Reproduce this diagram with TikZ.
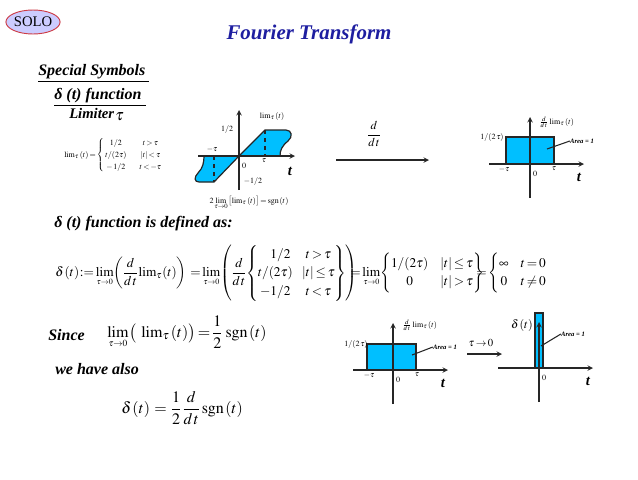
\documentclass[tikz,border=0pt]{standalone}
\usepackage{amsmath}
\usepackage{mathptmx}
\usepackage[no-math]{fontspec}
\setmainfont{Liberation Serif}
\usetikzlibrary{shapes.geometric}
\definecolor{areablue}{RGB}{0,191,255}
\definecolor{titleblue}{RGB}{30,30,160}
\definecolor{solofill}{RGB}{204,204,255}
\definecolor{solored}{RGB}{205,60,70}
\renewcommand{\arraystretch}{1.15}
\thinmuskip=1.5mu
\medmuskip=1.5mu
\thickmuskip=2.5mu
\setlength{\arraycolsep}{1pt}
\setlength{\nulldelimiterspace}{0.5pt}
\newcommand{\limz}{\lim_{\scriptscriptstyle\tau\to0}}
\begin{document}
\begin{tikzpicture}[x=0.75pt,y=-0.75pt,>=stealth,
    head/.style = {font=\fontsize{12}{14}\bfseries\itshape\selectfont,anchor=west,inner sep=0pt},
    eqn/.style = {font=\fontsize{12}{14}\selectfont,anchor=west,inner sep=0pt},
    defeqn/.style = {font=\fontsize{10}{12}\selectfont,anchor=west,inner sep=0pt},
    lab/.style = {font=\fontsize{6}{7}\selectfont,inner sep=0pt},
    axisvar/.style = {font=\fontsize{11}{12}\bfseries\itshape\selectfont,inner sep=0pt},
    note/.style = {font=\fontsize{5}{6}\bfseries\itshape\selectfont,inner sep=0pt},
    axis/.style = {draw=black!85,line width=0.8pt,->},
    blockfill/.style = {draw=black!85,fill=areablue,line width=0.9pt},
    pointer/.style = {draw=black!85,line width=0.8pt}]
\useasboundingbox (0,0) rectangle (638,479);

% header
\node[ellipse,draw=solored,fill=solofill,line width=0.7pt,minimum width=39pt,minimum height=18pt,inner sep=0pt,
  font=\fontsize{11}{12}\selectfont] (solo) at (33,22) {SOLO};
\node[font=\fontsize{15.7}{18}\bfseries\itshape\selectfont,text=titleblue,inner sep=0pt] (title) at (309,34) {Fourier Transform};
\node[head] (special) at (38,73) {\underline{Special Symbols\ }};
\node[head] (fn) at (54,97) {\underline{δ (t) function\ }};
\node[head,font=\fontsize{11}{13}\bfseries\itshape\selectfont] (limiter) at (69,113) {Limiter};
\node[eqn] (limtau) at (115,117) {$\tau$};

% limiter definition
\node[lab,anchor=west] (limdef) at (64,155) {\renewcommand{\arraystretch}{1.3}$\mathrm{lim}_{\tau}\,(t)=\left\{\begin{array}{c@{\hspace{10pt}}c}
  1/2 & t>\tau\\ t/(2\tau) & |t|<\tau\\ -\,1/2 & t<-\tau\end{array}\right.$};

% limiter graph
\coordinate (a1w) at (198,156);
\coordinate (a1e) at (295,156);
\coordinate (a1s) at (239,190);
\coordinate (a1n) at (239,110);
\draw[blockfill] (239,156) -- (265,130) -- (286,130) .. controls (292,130) and (293,137) .. (288,141)
  .. controls (282,146) and (280,150) .. (280,156) -- cycle;
\draw[blockfill] (239,156) -- (214,182) -- (199,182) .. controls (194,182) and (194,177) .. (198,173)
  .. controls (203,168) and (204,162) .. (204,156) -- cycle;
\draw[pointer,dashed] (265,130) -- (265,156);
\draw[pointer,dashed] (214,156) -- (214,182);
\draw[axis] (a1w) -- (a1e);
\draw[axis] (a1s) -- (a1n);
\node[lab] (a1lim) at (272,116) {$\mathrm{lim}_{\tau}\,(t)$};
\node[lab] (a1half) at (227,130) {$1/2$};
\node[lab] (a1mt) at (212,149) {$-\tau$};
\node[lab] (a1t) at (264,161) {$\tau$};
\node[lab] (a1zero) at (244,166) {$0$};
\node[axisvar] (a1var) at (290,171) {t};
\node[lab] (a1mhalf) at (253,182) {$-1/2$};
\node[lab] (a1sgn) at (249,203) {$2\lim\limits_{\tau\to0}\big[\mathrm{lim}_{\tau}\,(t)\big]=\mathrm{sgn}\,(t)$};

% derivative arrow
\node[font=\fontsize{9}{10}\selectfont,inner sep=0pt] (ddt) at (374,134) {$\dfrac{d}{d\,t}$};
\coordinate (ddtw) at (336,160);
\coordinate (ddte) at (429,160);
\draw[axis] (ddtw) -- (ddte);

% rectangle graph
\coordinate (a2w) at (489,164);
\coordinate (a2e) at (584,164);
\coordinate (a2s) at (530,198);
\coordinate (a2n) at (530,117);
\coordinate (a2arrow) at (547,149);
\draw[blockfill] (506,137) rectangle (554,164);
\draw[axis] (a2w) -- (a2e);
\draw[axis] (a2s) -- (a2n);
\node[lab] (a2lim) at (557,122) {$\frac{d}{d\,t}\ \mathrm{lim}_{\tau}\,(t)$};
\node[lab] (a2top) at (492,137) {$1/(2\,\tau)$};
\node[lab] (a2mt) at (504,169) {$-\tau$};
\node[lab] (a2t) at (554,169) {$\tau$};
\node[lab] (a2zero) at (535,174) {$0$};
\node[axisvar] (a2var) at (579,177) {t};
\node[note] (a2area) at (582,141) {Area = 1};
\draw[pointer] (a2arrow) -- (a2area.west);

% definition
\node[head] (defhead) at (54,224) {δ (t) function is defined as:};
\node[defeqn] (defa) at (55,273) {$\displaystyle\delta\,(t)\!:=\limz\!\left(\frac{d}{d\,t}\,\mathrm{lim}_{\tau}(t)\right)$};
\node[defeqn] (defb) at (190,273) {$\displaystyle=\limz\!\left(\frac{d}{d\,t}\!\left\{\begin{array}{@{}c@{\hspace{7pt}}c@{}}
  \phantom{-}1/2 & t>\tau\\ t/(2\tau) & |t|\le\tau\\ -1/2 & t<\tau\end{array}\right\}\!\right)$};
\node[defeqn] (defc) at (350,273) {$\displaystyle=\limz\!\left\{\begin{array}{@{}c@{\hspace{9pt}}c@{}}
  1/(2\tau) & |t|\le\tau\\ 0 & |t|>\tau\end{array}\right\}$};
\node[defeqn] (defd) at (476,273) {$\displaystyle=\left\{\begin{array}{@{}c@{\hspace{9pt}}c@{}}
  \infty & t=0\\ 0 & t\ne0\end{array}\right.$};

% since
\node[head] (since) at (48,335) {Since};
\node[eqn] (sinceeq) at (107,332) {$\displaystyle\limz\big(\ \mathrm{lim}_{\tau}\,(t)\big)=\frac{1}{2}\;\,\mathrm{sgn}\,(t)$};
\node[head] (also) at (55,369) {we have also};
\node[eqn] (alsoeq) at (121,408) {$\displaystyle\delta\,(t)\;=\;\frac{1}{2}\;\frac{d}{d\,t}\;\mathrm{sgn}\,(t)$};

% rectangle graph, lower row
\coordinate (a3w) at (353,370);
\coordinate (a3e) at (448,370);
\coordinate (a3s) at (393,404);
\coordinate (a3n) at (393,323);
\coordinate (a3arrow) at (412,355);
\draw[blockfill] (367,344) rectangle (416,370);
\draw[axis] (a3w) -- (a3e);
\draw[axis] (a3s) -- (a3n);
\node[lab] (a3lim) at (420,325) {$\frac{d}{d\,t}\ \mathrm{lim}_{\tau}\,(t)$};
\node[lab] (a3top) at (356,344) {$1/(2\,\tau)$};
\node[lab] (a3mt) at (369,375) {$-\tau$};
\node[lab] (a3t) at (417,375) {$\tau$};
\node[lab] (a3zero) at (398,380) {$0$};
\node[axisvar] (a3var) at (443,383) {t};
\node[note] (a3area) at (445,347) {Area = 1};
\draw[pointer] (a3arrow) -- (a3area.west);

% limit arrow
\node[lab,font=\fontsize{8}{9}\selectfont] (limarrow) at (481,343) {$\tau\to0$};
\coordinate (limw) at (467,354);
\coordinate (lime) at (502,354);
\draw[axis] (limw) -- (lime);

% impulse graph
\coordinate (a4w) at (498,368);
\coordinate (a4e) at (593,368);
\coordinate (a4s) at (539,402);
\coordinate (a4n) at (539,322);
\coordinate (a4arrow) at (541,346);
\draw[blockfill] (535,313) rectangle (543,368);
\draw[axis] (a4w) -- (a4e);
\draw[axis] (a4s) -- (a4n);
\node[font=\fontsize{9}{10}\selectfont,inner sep=0pt] (a4delta) at (522,325) {$\delta\,(t)$};
\node[lab] (a4zero) at (544,378) {$0$};
\node[axisvar] (a4var) at (588,381) {t};
\node[note] (a4area) at (573,334) {Area = 1};
\draw[pointer] (a4arrow) -- (a4area.west);
\end{tikzpicture}
\end{document}
